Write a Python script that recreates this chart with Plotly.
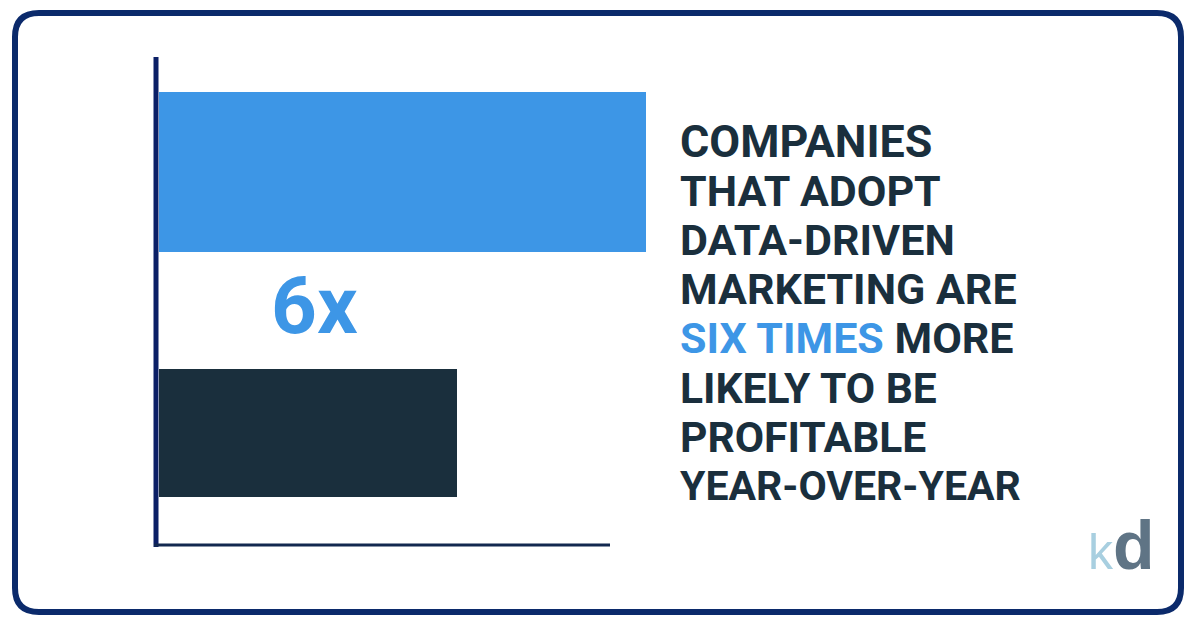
import plotly.graph_objects as go

categories = ['Data-driven', 'Other']
values = [6, 3.67]
colors_bars = ['#3d96e6', '#1a2f3d']
headline = [
    'COMPANIES',
    'THAT ADOPT',
    'DATA-DRIVEN',
    'MARKETING ARE',
    '<span style="color:#3d96e6">SIX TIMES</span> MORE',
    'LIKELY TO BE',
    'PROFITABLE',
    'YEAR-OVER-YEAR',
]
# the reference lettering is a little narrower on some lines
headline_sizes = [44.8, 43, 43, 43, 43, 42.6, 42.6, 41]

# the page body has an 8px margin, so the figure starts at (8, 8)
W, H = 1192, 620


def px(x):
    return (x - 8) / W


def py(y):
    return 1 - (y - 8) / H


fig = go.Figure()
fig.add_trace(go.Bar(y=categories, x=values, orientation='h', marker_color=colors_bars,
                     marker_line_width=0, width=[0.613, 0.49], showlegend=False, hoverinfo='skip'))

# outer rounded frame
l, r, t, b, c = px(15), px(1181), py(13), py(612), 24
cx, cy = c / W, c / H
frame = (f'M {l + cx} {t} L {r - cx} {t} Q {r} {t} {r} {t - cy} L {r} {b + cy} '
         f'Q {r} {b} {r - cx} {b} L {l + cx} {b} Q {l} {b} {l} {b + cy} L {l} {t - cy} '
         f'Q {l} {t} {l + cx} {t} Z')
fig.add_shape(type='path', xref='paper', yref='paper', path=frame,
              line=dict(color='#0b2a6b', width=6), layer='below')

# axis lines
fig.add_shape(type='line', xref='paper', yref='paper', x0=px(156), x1=px(156), y0=py(57), y1=py(547),
              line=dict(color='#0b1f66', width=5))
fig.add_shape(type='line', xref='paper', yref='paper', x0=px(154), x1=px(610), y0=py(545), y1=py(545),
              line=dict(color='#12284f', width=3))

fig.update_layout(
    width=W, height=H, margin=dict(l=0, r=0, t=0, b=0),
    paper_bgcolor='white', plot_bgcolor='rgba(0,0,0,0)',
    font=dict(family='Roboto', color='#1a2f3d'),
    bargap=0,
    xaxis=dict(domain=[px(159), px(646)], range=[0, 6], showgrid=False, zeroline=False,
               showticklabels=False, ticks=''),
    yaxis=dict(domain=[py(546), py(57)], range=[1.434, -0.44], showgrid=False, zeroline=False,
               showticklabels=False, ticks=''),
)

for i, line in enumerate(headline):
    fig.add_annotation(text='<b>' + line + '</b>', xref='paper', yref='paper', x=px(677.5),
                       y=py(142 + i * 49.1), xanchor='left', yanchor='middle', showarrow=False,
                       font=dict(size=headline_sizes[i], family='Roboto', color='#1a2f3d'))

fig.add_annotation(text='<b>6x</b>', xref='paper', yref='paper', x=px(314), y=py(306),
                   xanchor='center', yanchor='middle', showarrow=False,
                   font=dict(size=80, family='Roboto', color='#3d96e6'))

# kd logo bottom right
fig.add_annotation(text='<span style="color:#a8cfe0;font-size:50px">k</span><b>d</b>',
                   xref='paper', yref='paper', x=px(1157), y=py(545), xanchor='right', yanchor='middle',
                   showarrow=False, font=dict(size=68, family='Liberation Sans', color='#5f7485'))

fig.write_html('out.html')
